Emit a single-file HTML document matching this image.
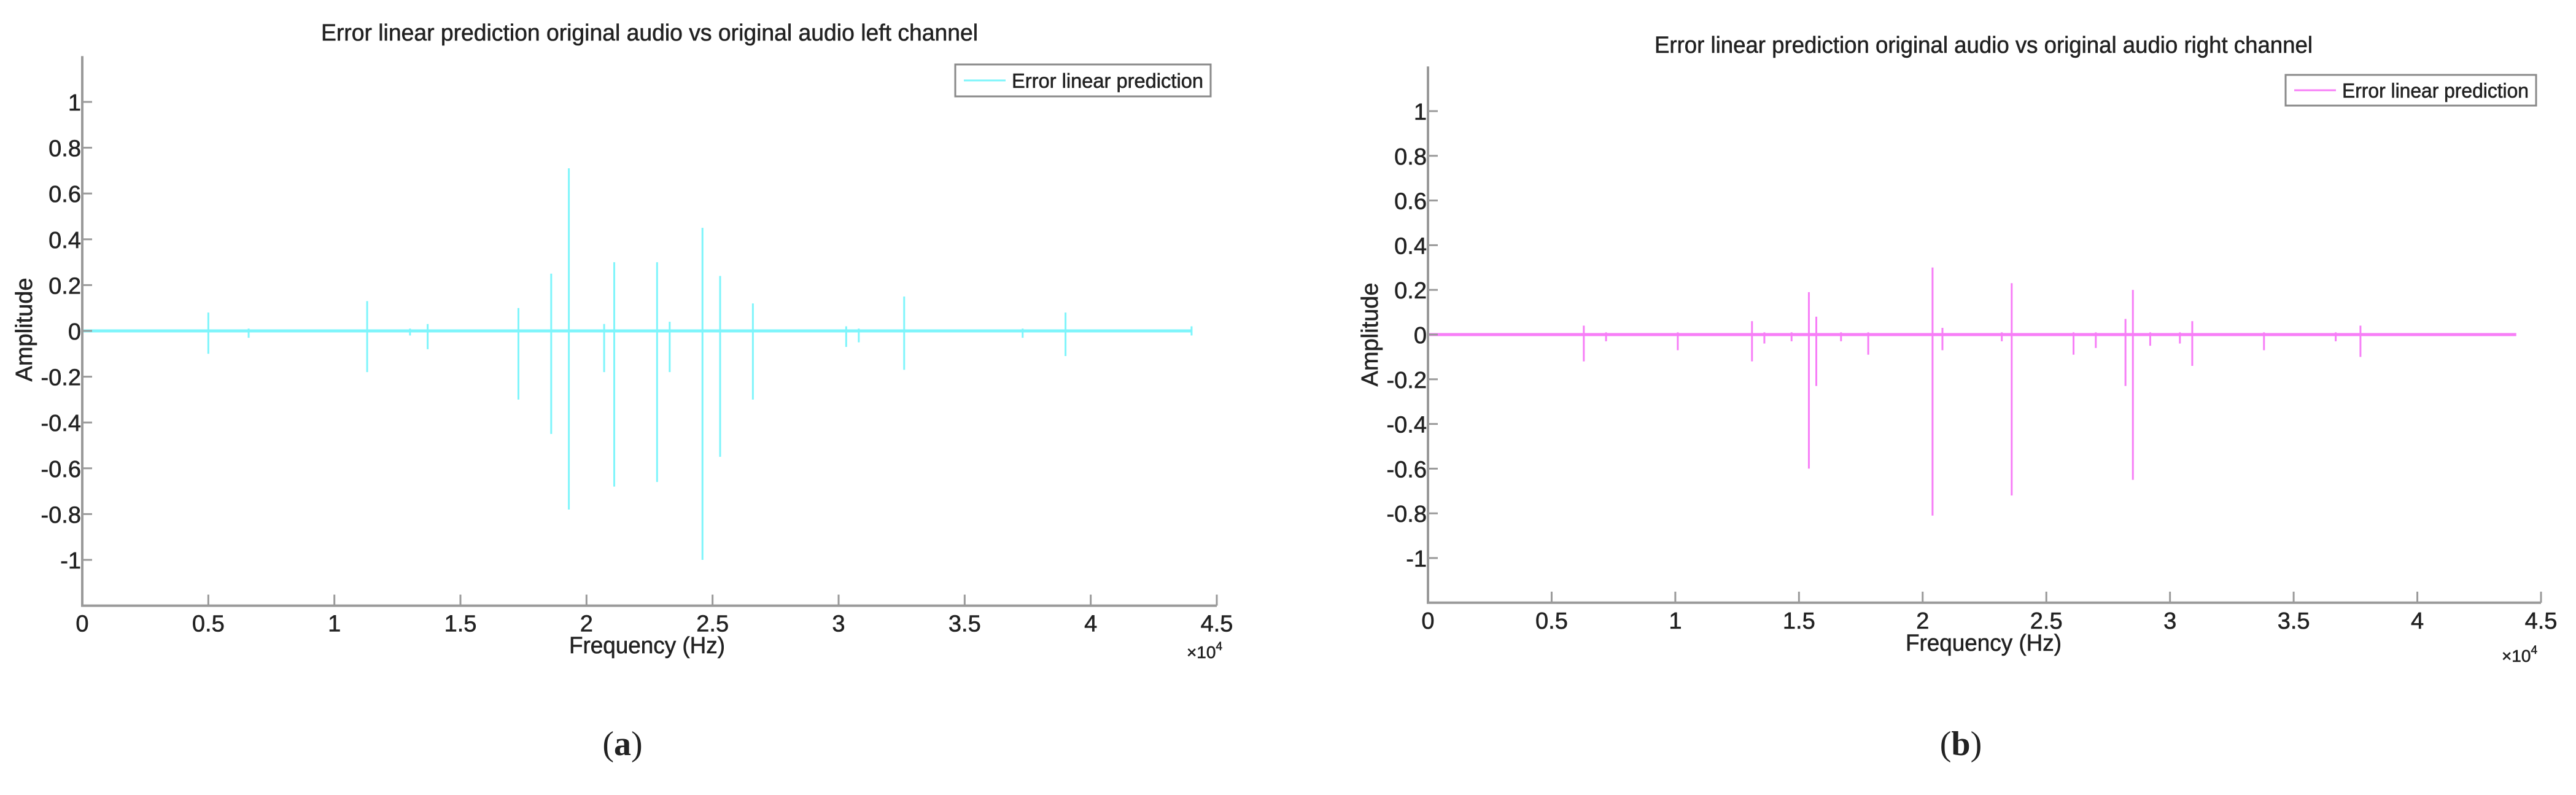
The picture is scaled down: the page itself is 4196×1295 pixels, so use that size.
<!DOCTYPE html>
<html><head><meta charset="utf-8"><style>
html,body{margin:0;padding:0;background:#fff;}
svg{display:block;}
text{font-family:"Liberation Sans",sans-serif;fill:#222;stroke:#222;stroke-width:0.6;}
</style></head><body>
<svg id="fig" width="4196" height="1295" viewBox="0 0 4196 1295" xmlns="http://www.w3.org/2000/svg"></svg>
<script>
// ---- data (x in units of 1e4 Hz) ----
const xTicks = [0,0.5,1,1.5,2,2.5,3,3.5,4,4.5];
const xTickLabels = ["0","0.5","1","1.5","2","2.5","3","3.5","4","4.5"];
const yTicks = [1,0.8,0.6,0.4,0.2,0,-0.2,-0.4,-0.6,-0.8,-1];
const yTickLabels = ["1","0.8","0.6","0.4","0.2","0","-0.2","-0.4","-0.6","-0.8","-1"];
const leftSpikeX   = [0, 0.5, 0.66, 1.13, 1.3, 1.37, 1.73, 1.86, 1.93, 2.07, 2.11, 2.28, 2.33, 2.46, 2.53, 2.66, 3.03, 3.08, 3.26, 3.73, 3.9, 4.4];
const leftSpikeMax = [0.45,0.08,0.01,0.13,0.01,0.03,0.10,0.25,0.71,0.03,0.30,0.30,0.04,0.45,0.24,0.12,0.02,0.01,0.15,0.01,0.08,0.02];
const leftSpikeMin = [0,-0.10,-0.03,-0.18,-0.02,-0.08,-0.30,-0.45,-0.78,-0.18,-0.68,-0.66,-0.18,-1.00,-0.55,-0.30,-0.07,-0.05,-0.17,-0.03,-0.11,-0.02];
const rightSpikeX   = [0.63,0.72,1.01,1.31,1.36,1.47,1.54,1.57,1.67,1.78,2.04,2.08,2.32,2.36,2.61,2.70,2.82,2.85,2.92,3.04,3.09,3.38,3.67,3.77];
const rightSpikeMax = [0.04,0.01,0.01,0.06,0.01,0.01,0.19,0.08,0.01,0.01,0.30,0.03,0.01,0.23,0.01,0.01,0.07,0.20,0.01,0.01,0.06,0.01,0.01,0.04];
const rightSpikeMin = [-0.12,-0.03,-0.07,-0.12,-0.04,-0.03,-0.60,-0.23,-0.03,-0.09,-0.81,-0.07,-0.03,-0.72,-0.09,-0.06,-0.23,-0.65,-0.05,-0.04,-0.14,-0.07,-0.03,-0.10];
const signalEnd = 4.4;

const NS="http://www.w3.org/2000/svg";
const svg=document.getElementById('fig');
function mk(tag,attrs,parent){const e=document.createElementNS(NS,tag);for(const k in attrs)e.setAttribute(k,attrs[k]);(parent||svg).appendChild(e);return e;}

function drawPanel(p){
  const g=mk('g',{});
  
  
  const sx=v=>p.x0+(v-0)/(4.5)*(p.x1-p.x0);
  const sy=v=>p.yz-v*p.k;
  const top=sy(1.2), bot=sy(-1.2);
  const t=mk('text',{x:p.tx,y:p.ty,'font-size':38,'text-anchor':'middle',textLength:p.tl,lengthAdjust:'spacingAndGlyphs'},g);
  t.textContent=p.title;
  
  
  const sg=mk('g',{stroke:p.color,'stroke-width':3,fill:'none'},g);
  
  
  const base=mk('line',{x1:sx(0),x2:sx(signalEnd),y1:sy(0),y2:sy(0),'stroke-width':5},sg);
  
  
  for(let i=0;i<p.sx.length;i++){
    const l=mk('line',{x1:sx(p.sx[i]),x2:sx(p.sx[i]),y1:sy(p.smax[i]),y2:sy(p.smin[i])},sg);
    
    
  }
  const ax=mk('g',{stroke:'#9a9a9a','stroke-width':4,fill:'none'},g);
  
  
  mk('path',{d:`M${p.x0},${top} L${p.x0},${bot} L${p.x1},${bot}`},ax);
  xTicks.forEach((v,i)=>{
    mk('line',{x1:sx(v),x2:sx(v),y1:bot,y2:bot-18,'stroke-width':3},ax);
    const tx=mk('text',{x:sx(v),y:bot+42,'font-size':38,'text-anchor':'middle'},g);
    tx.textContent=xTickLabels[i];
    
    
  });
  yTicks.forEach((v,i)=>{
    mk('line',{x1:p.x0,x2:p.x0+16,y1:sy(v),y2:sy(v),'stroke-width':3},ax);
    const ty=mk('text',{x:p.x0-2,y:sy(v)+14,'font-size':38,'text-anchor':'end'},g);
    ty.textContent=yTickLabels[i];
    
    
  });
  const xl=mk('text',{x:p.xlx,y:p.xly,'font-size':38,'text-anchor':'middle',textLength:254,lengthAdjust:'spacingAndGlyphs'},g);
  xl.textContent='Frequency (Hz)';
  
  
  const ex=mk('text',{x:p.ex,y:p.ey,'font-size':28,'text-anchor':'middle',fill:'#444'},g);
  ex.innerHTML='×10<tspan font-size="19" dy="-13">4</tspan>';
  
  
  const yl=mk('text',{x:0,y:0,'font-size':38,'text-anchor':'middle',transform:`translate(${p.ylx},${p.yly}) rotate(-90)`},g);
  yl.textContent='Amplitude';
  
  
  const lg=mk('g',{},g);
  
  
  mk('rect',{x:p.lx0,y:p.ly0,width:p.lx1-p.lx0,height:p.ly1-p.ly0,fill:'#fff',stroke:'#8a8a8a','stroke-width':3},lg);
  const lm=(p.ly0+p.ly1)/2;
  mk('line',{x1:p.lx0+14,x2:p.lx0+82,y1:lm,y2:lm,stroke:p.color,'stroke-width':3},lg);
  const lt=mk('text',{x:p.lx0+92,y:lm+12,'font-size':33,textLength:p.lx1-p.lx0-104,lengthAdjust:'spacingAndGlyphs'},lg);
  lt.textContent='Error linear prediction';
  
  
  const c=mk('text',{x:p.cx,y:1230,'font-size':56,'text-anchor':'middle',style:'font-family:"Liberation Serif",serif;stroke-width:0'},g);
  c.innerHTML=p.cap;
  
  
}

drawPanel({name:'left-channel-chart',x0:134,x1:1982,yz:539,k:373,color:'#7ff5fb',
  sx:leftSpikeX,smax:leftSpikeMax,smin:leftSpikeMin,
  title:'Error linear prediction original audio vs original audio left channel',tx:1058,ty:66,tl:1070,
  xlx:1054,xly:1064,ex:1962,ey:1072,ylx:52,yly:537,
  lx0:1556,lx1:1972,ly0:105,ly1:157,cx:1014,cap:'(<tspan font-weight="bold">a</tspan>)'});
drawPanel({name:'right-channel-chart',x0:2326,x1:4139,yz:545,k:364,color:'#f77ef7',
  sx:rightSpikeX,smax:rightSpikeMax,smin:rightSpikeMin,
  title:'Error linear prediction original audio vs original audio right channel',tx:3231,ty:86,tl:1072,
  xlx:3231,xly:1060,ex:4104,ey:1078,ylx:2244,yly:545,
  lx0:3723,lx1:4131,ly0:122,ly1:172,cx:3194,cap:'(<tspan font-weight="bold">b</tspan>)'});
</script>
</body></html>
